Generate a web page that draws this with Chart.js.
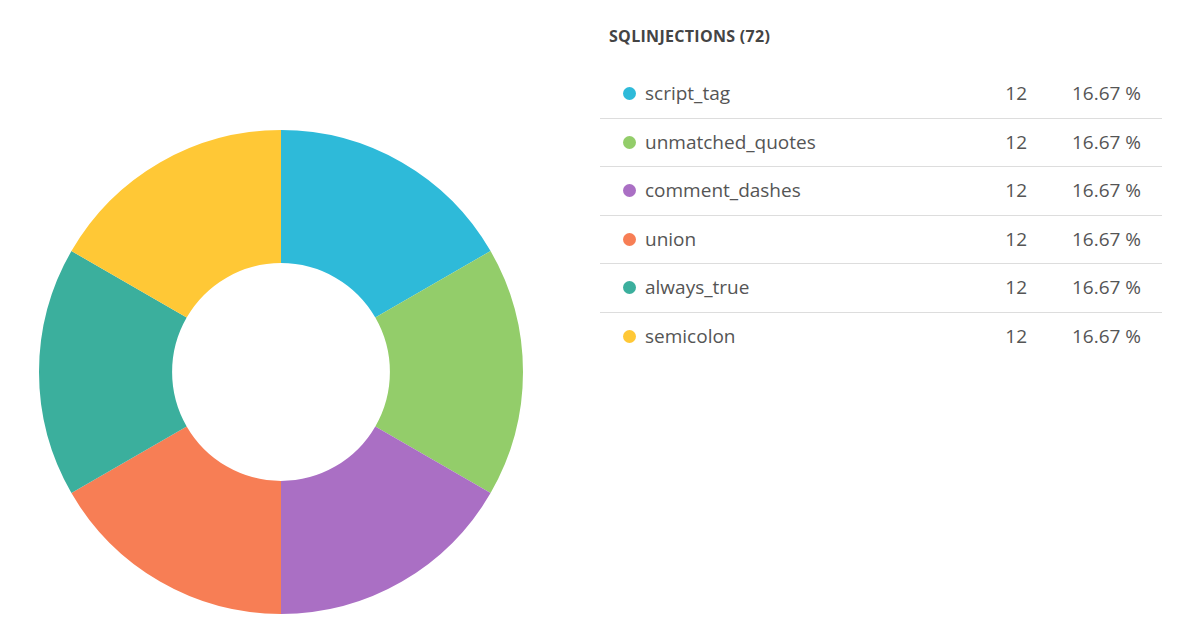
<!DOCTYPE html>
<html><head><meta charset="utf-8">
<script src="https://cdn.jsdelivr.net/npm/chart.js@4/dist/chart.umd.min.js"></script>
<style>
body{margin:0;width:1200px;height:630px;background:#fff;font-family:"Open Sans",sans-serif;position:relative;overflow:hidden}
#wrap{position:absolute;left:39px;top:130px;width:484px;height:484px}
#title{position:absolute;left:609px;top:25px;font-size:16px;font-weight:700;color:#444;letter-spacing:0.3px}
#legend{position:absolute;left:600px;top:70px;width:562px}
.row{height:48.5px;border-bottom:1px solid #ddd;position:relative;font-size:19px;color:#555;box-sizing:border-box}
.row:last-child{border-bottom:none}
.dot{position:absolute;left:23px;top:17px;width:13px;height:13px;border-radius:50%}
.lbl{position:absolute;left:45px;top:10px}
.val{position:absolute;right:135px;top:10px}
.pct{position:absolute;right:21px;top:10px}
</style></head><body>
<div id="wrap"><canvas id="c"></canvas></div>
<div id="title"></div>
<div id="legend"></div>
<script>
const categories=["script_tag","unmatched_quotes","comment_dashes","union","always_true","semicolon"];
const values=[12,12,12,12,12,12];
const colors=["#2EBAD9","#93CD6A","#AA6FC4","#F77E55","#3BAF9D","#FFC836"];
const titleText="SQLINJECTIONS";
const total=values.reduce((a,b)=>a+b,0);
document.getElementById('title').textContent=titleText+" ("+total+")";
const lg=document.getElementById('legend');
categories.forEach((c,i)=>{
 const r=document.createElement('div');r.className='row';
 r.innerHTML='<span class="dot" style="background:'+colors[i]+'"></span><span class="lbl">'+c+'</span><span class="val">'+values[i]+'</span><span class="pct">'+(values[i]/total*100).toFixed(2)+' %</span>';
 lg.appendChild(r);
});
new Chart(document.getElementById('c'),{type:'doughnut',
 data:{labels:categories,datasets:[{data:values,backgroundColor:colors,borderWidth:0}]},
 options:{responsive:true,maintainAspectRatio:false,animation:false,cutout:'45%',
  plugins:{legend:{display:false},tooltip:{enabled:false}}}});
</script></body></html>
